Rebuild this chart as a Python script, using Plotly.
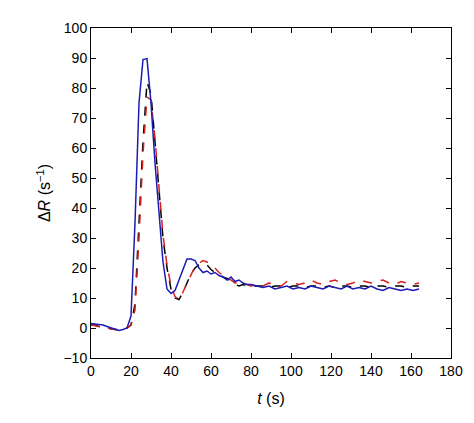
import plotly.graph_objects as go

t = list(range(0, 81, 2)) + list(range(83, 165, 3))

blue = [1.5, 1.3, 1.2, 1.0, 0.5, 0, -0.5, -0.8, -0.5, 0, 4, 35, 75, 89.5, 89.8, 75, 55, 38, 22, 13,
        11.5, 12.5, 16, 20, 23, 23, 22.5, 20, 18.5, 19, 18, 18.5, 17.5, 17, 16, 17, 15.5, 16, 15, 14.5, 14.5,
        14, 13.5, 14, 13, 13.5, 14, 13, 13.5, 13, 14, 13.5, 13, 14, 13.5, 13, 14, 13, 13.5, 13, 14, 13,
        12.5, 13.5, 13, 12.5, 13, 12.5, 13]

black = [1, 1, 0.5, 0.5, 0, -0.3, -0.5, -0.5, -0.5, 0, 1, 8, 35, 62, 82, 78, 62, 45, 30, 20,
         13, 10, 9.5, 12, 15, 18, 20, 21, 21.5, 21, 19.5, 18.5, 18, 17, 16.5, 15.5, 14.5, 14, 14.5, 14, 14,
         14, 14, 13.5, 14, 14, 13.5, 14, 14, 13.5, 14, 14, 13.5, 14, 13.5, 14, 14, 13.5, 14, 14, 13.5, 14,
         14, 13.5, 14, 14, 13.5, 14, 14]

red = [1, 0.8, 0.5, 0.2, 0, -0.3, -0.5, -0.7, -0.5, 0, 1, 6, 30, 58, 77, 76, 63, 46, 31, 21,
       14, 10.5, 9.5, 12, 15, 18, 20.5, 21.5, 22.5, 22, 21, 20, 18.5, 17.5, 17, 16, 15, 15, 14.5, 14.5, 14,
       14.5, 14, 15, 14.5, 14, 15.5, 15, 14.5, 15, 16, 15, 14.5, 15.5, 16, 15, 14.5, 15, 16, 15.5, 15, 15.5,
       16, 15, 14.5, 15.5, 15, 14.5, 15]

fig = go.Figure()
fig.add_trace(go.Scatter(x=t, y=black, mode="lines", line=dict(color="black", width=1.5, dash="dash")))
fig.add_trace(go.Scatter(x=t, y=red, mode="lines", line=dict(color="#d62020", width=1.5, dash="dash")))
fig.add_trace(go.Scatter(x=t, y=blue, mode="lines", line=dict(color="#1c1cb4", width=1.5)))

axis = dict(showgrid=False, zeroline=False, showline=True, linecolor="black", linewidth=1,
            mirror="ticks", ticks="inside", ticklen=5, tickcolor="black",
            tickfont=dict(size=14, color="black"))
fig.update_xaxes(range=[0, 180], dtick=20, title=dict(text="<i>t</i> (s)", font=dict(size=16)), **axis)
fig.update_yaxes(range=[-10, 100], dtick=10, title=dict(text="Δ<i>R</i> (s<sup>−1</sup>)", font=dict(size=16),
                 standoff=8), **axis)
fig.update_layout(width=474, height=423, margin=dict(l=83, r=31, t=20, b=73), showlegend=False,
                  plot_bgcolor="white", paper_bgcolor="white",
                  font=dict(family="Liberation Sans, Arial, sans-serif", color="black"))
fig.write_html("out.html")
